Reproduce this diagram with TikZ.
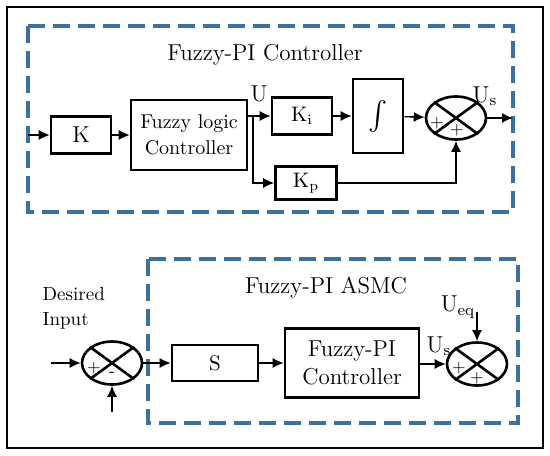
\documentclass[tikz,border=0pt]{standalone}
\usepackage{tikz}
\usetikzlibrary{positioning, shapes, arrows.meta, calc}
\usepackage{amssymb,color}
\usepackage{amsmath}
\definecolor{dashblue}{RGB}{62,112,158}

\begin{document}
\begin{tikzpicture}[-{Latex[length=5.5pt,width=5pt]}, x=0.5pt, y=-0.5pt,
      inner sep=0pt, line width=0.7pt, font=\fontsize{10.5}{13}\selectfont,
      block/.style={rectangle, draw, line width=1.3pt, align=center},
      sum/.style={ellipse, draw, line width=1.3pt, minimum width=30pt, minimum height=21.5pt},
      sign/.style={font=\fontsize{8.5}{9}\selectfont},
      head/.style={font=\fontsize{11.5}{14}\selectfont},
      dashframe/.style={-, draw=dashblue, line width=2pt, dash pattern=on 8.5pt off 4pt}]
      \useasboundingbox (0,0) rectangle (550,455);
      \draw[-, line width=1pt] (7,7) rectangle (543,448);
      % Fuzzy-PI controller
      \draw[dashframe] (28,26) rectangle (513,212);
      \node[head] (title_1) at(265,55) {Fuzzy-PI Controller};
      \coordinate (in_1) at(28,135);
      \node[block, minimum width=30pt, minimum height=18.5pt, font=\fontsize{11.5}{14}\selectfont](gain_k) at(81,135) {K};
      \path (in_1) edge (gain_k);
      \node[block, minimum width=58pt, minimum height=35pt, font=\fontsize{10}{13}\selectfont](flc) at(189,135) {Fuzzy logic\\Controller};
      \path (gain_k) edge (flc);
      \coordinate (br) at(253,116);
      \node[head] (lab_u) at(259,94) {U};
      \draw[-] (flc.east |- br) -- (br);
      \node[block, minimum width=30pt, minimum height=18.5pt](ki) at(302,116) {K$_\mathrm{i}$};
      \path (br) edge (ki);
      \node[block, minimum width=30.5pt, minimum height=16.5pt](kp) at(306,183) {K$_\mathrm{p}$};
      \draw (br) |- (kp);
      \node[block, minimum width=25pt, minimum height=37pt](integ) at(378,116) {\Large$\int$};
      \path (ki) edge (integ);
      \node[sum](sum_1) at(456,118) {};
      \draw[-, line width=1.3pt] (sum_1.north west) -- (sum_1.south east)
            (sum_1.north east) -- (sum_1.south west);
      \node[sign] at ($(sum_1)+(-19,5)$) {+};
      \node[sign] at ($(sum_1)+(1,12)$) {+};
      \path (integ) edge (sum_1);
      \draw (kp) -| (sum_1);
      \coordinate (out_1) at(513,118);
      \path (sum_1) edge (out_1);
      \node[head] (lab_us1) at(485,96) {U$_\mathrm{s}$};
      % Fuzzy-PI ASMC
      \draw[dashframe] (148,259) rectangle (518,423);
      \node[head] (title_2) at(326,288) {Fuzzy-PI ASMC};
      \node[anchor=west, align=left, font=\fontsize{9.5}{12.5}\selectfont](desired) at(42,308) {Desired\\Input};
      \node[sum](sum_2) at(112,363) {};
      \draw[-, line width=1.3pt] (sum_2.north west) -- (sum_2.south east)
            (sum_2.north east) -- (sum_2.south west);
      \node[sign] at ($(sum_2)+(-18,5)$) {+};
      \node[sign] at ($(sum_2)+(0,11)$) {-};
      \coordinate (in_2) at(51,363);
      \coordinate (fb_2) at(112,412);
      \path (in_2) edge (sum_2);
      \path (fb_2) edge (sum_2);
      \node[block, minimum width=43pt, minimum height=18pt](surf) at(215,363) {S};
      \path (sum_2) edge (surf);
      \node[block, minimum width=67pt, minimum height=34.5pt, font=\fontsize{11.5}{14}\selectfont](fpi) at(352,363) {Fuzzy-PI\\Controller};
      \path (surf) edge (fpi);
      \node[sum](sum_3) at(477,364) {};
      \draw[-, line width=1.3pt] (sum_3.north west) -- (sum_3.south east)
            (sum_3.north east) -- (sum_3.south west);
      \node[sign] at ($(sum_3)+(-18,4)$) {+};
      \node[sign] at ($(sum_3)+(0,14)$) {+};
      \path (fpi.east |- sum_3) edge (sum_3);
      \node[head] (lab_us2) at(439,346) {U$_\mathrm{s}$};
      \node[head] (lab_ueq) at(458,307) {U$_\mathrm{eq}$};
      \coordinate (eq_in) at(477,312);
      \path (eq_in) edge (sum_3);
  \end{tikzpicture}
\end{document}
